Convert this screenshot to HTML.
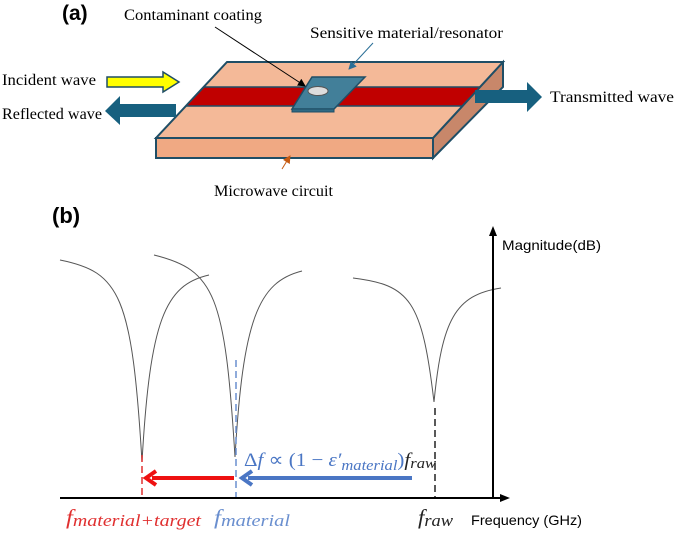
<!DOCTYPE html>
<html><head><meta charset="utf-8"><style>
body{margin:0;background:#fff;width:685px;height:556px;overflow:hidden}
svg{display:block}
.s{font-family:"Liberation Serif",serif}
.a{font-family:"Liberation Sans",sans-serif}
</style></head><body>
<svg width="685" height="556" viewBox="0 0 685 556">
<defs>
<marker id="ab" markerWidth="8" markerHeight="8" refX="7" refY="4" orient="auto" markerUnits="userSpaceOnUse"><path d="M0,0 L8,4 L0,8z" fill="#000"/></marker>
<marker id="abl" markerWidth="8" markerHeight="8" refX="7" refY="4" orient="auto" markerUnits="userSpaceOnUse"><path d="M0,0 L8,4 L0,8z" fill="#2a6f97"/></marker>
<marker id="ao" markerWidth="8" markerHeight="8" refX="7" refY="4" orient="auto" markerUnits="userSpaceOnUse"><path d="M0,0 L8,4 L0,8z" fill="#c55a11"/></marker>
</defs>
<!-- (a) -->
<text x="62" y="20" class="a" font-size="21" font-weight="bold">(a)</text>
<text x="124" y="20" class="s" font-size="16" textLength="138" lengthAdjust="spacingAndGlyphs">Contaminant coating</text>
<text x="310" y="38" class="s" font-size="16" textLength="193" lengthAdjust="spacingAndGlyphs">Sensitive material/resonator</text>
<!-- board -->
<polygon points="503,62 503,87 433,158 433,138" fill="#c8876a" stroke="#1f4e66" stroke-width="2"/>
<polygon points="156,138 433,138 433,158 156,158" fill="#f0a983" stroke="#1f4e66" stroke-width="2"/>
<polygon points="227,62 503,62 433,138 156,138" fill="#f4b998" stroke="#1f4e66" stroke-width="2"/>
<polygon points="204,87 480,87 462,106 186,106" fill="#c00000" stroke="#1f4e66" stroke-width="1.5"/>
<polygon points="312,77 365,77 334,109 292,109" fill="#427f99" stroke="#1f4e66" stroke-width="1.5"/>
<polygon points="292,109 334,109 334,112 292,112" fill="#2f6a84" stroke="#1f4e66" stroke-width="1"/>
<ellipse cx="318" cy="91" rx="10" ry="4.5" fill="#ddd" stroke="#555"/>
<line x1="215" y1="27" x2="305" y2="86" stroke="#000" stroke-width="1" marker-end="url(#ab)"/>
<line x1="373" y1="43" x2="349" y2="69" stroke="#2a6f97" stroke-width="1" marker-end="url(#abl)"/>
<line x1="282" y1="169" x2="290" y2="156" stroke="#c55a11" stroke-width="1" marker-end="url(#ao)"/>
<!-- wave arrows -->
<polygon points="107,77 163,77 163,72 179,82 163,92 163,87 107,87" fill="#ffff00" stroke="#1f4e66" stroke-width="1.5"/>
<polygon points="176,104 120,104 120,96 105,111 120,125 120,117 176,117" fill="#17607f"/>
<polygon points="475,90 527,90 527,82 542,97 527,112 527,103 475,103" fill="#17607f"/>
<text x="2" y="85" class="s" font-size="16" textLength="94" lengthAdjust="spacingAndGlyphs">Incident wave</text>
<text x="2" y="119" class="s" font-size="16" textLength="100" lengthAdjust="spacingAndGlyphs">Reflected wave</text>
<text x="550" y="102" class="s" font-size="16" textLength="124" lengthAdjust="spacingAndGlyphs">Transmitted wave</text>
<text x="214" y="196" class="s" font-size="16" textLength="119" lengthAdjust="spacingAndGlyphs">Microwave circuit</text>
<!-- (b) -->
<text x="52" y="223" class="a" font-size="22" font-weight="bold">(b)</text>
<g fill="none" stroke="#555" stroke-width="1">
<path d="M60,260 C120,272 132,295 142,462 C150,320 165,285 209,275"/>
<path d="M154,255 C215,270 225,295 235,457 C243,320 258,282 302,271"/>
<path d="M353,278 C410,285 422,300 434,402 C442,320 455,295 501,288"/>
</g>
<line x1="142" y1="455" x2="142" y2="497" stroke="#e03030" stroke-width="1.5" stroke-dasharray="7,4"/>
<line x1="236" y1="360" x2="236" y2="497" stroke="#6a8fcf" stroke-width="1.5" stroke-dasharray="7,4"/>
<line x1="435" y1="408" x2="435" y2="497" stroke="#222" stroke-width="1.5" stroke-dasharray="7,4"/>
<!-- axes -->
<line x1="493" y1="498" x2="493" y2="234" stroke="#000" stroke-width="2"/>
<polygon points="493,226 489,236 497,236" fill="#000"/>
<line x1="60" y1="498" x2="502" y2="498" stroke="#000" stroke-width="2"/>
<polygon points="510,498 500,494 500,502" fill="#000"/>
<text x="502" y="250" class="a" font-size="14" textLength="99" lengthAdjust="spacingAndGlyphs">Magnitude(dB)</text>
<text x="471" y="525" class="a" font-size="14" textLength="111" lengthAdjust="spacingAndGlyphs">Frequency (GHz)</text>
<!-- shift arrows -->
<line x1="234" y1="478" x2="152" y2="478" stroke="#ee1111" stroke-width="4"/>
<path d="M156,471 L146,478 L156,485" fill="none" stroke="#ee1111" stroke-width="4"/>
<line x1="412" y1="478" x2="248" y2="478" stroke="#4a76c4" stroke-width="4"/>
<path d="M252,471 L242,478 L252,485" fill="none" stroke="#4a76c4" stroke-width="4"/>
<text x="244" y="466" class="s" font-size="19" fill="#4a76c4" textLength="192" lengthAdjust="spacingAndGlyphs">Δ<tspan font-style="italic">f</tspan> ∝ (1 − <tspan font-style="italic">ε′</tspan><tspan font-style="italic" font-size="15" dy="4">material</tspan><tspan dy="-4">)</tspan><tspan font-style="italic" fill="#222">f</tspan><tspan font-style="italic" font-size="15" fill="#222" dy="2">raw</tspan></text>
<text x="66" y="524" class="s" font-size="21" font-style="italic" fill="#e03030" textLength="135" lengthAdjust="spacingAndGlyphs">f<tspan font-size="17" dy="2">material+target</tspan></text>
<text x="214" y="524" class="s" font-size="21" font-style="italic" fill="#6a8fcf" textLength="76" lengthAdjust="spacingAndGlyphs">f<tspan font-size="17" dy="2">material</tspan></text>
<text x="418" y="524" class="s" font-size="21" font-style="italic" fill="#222" textLength="35" lengthAdjust="spacingAndGlyphs">f<tspan font-size="17" dy="2">raw</tspan></text>
</svg>
</body></html>
